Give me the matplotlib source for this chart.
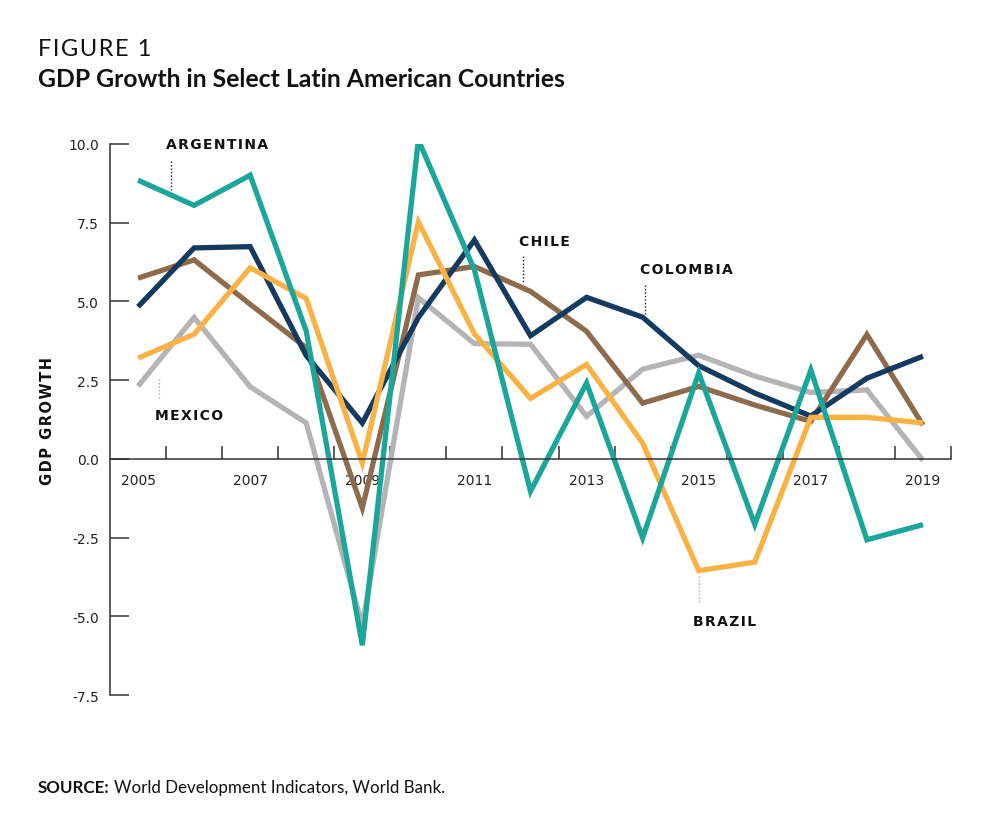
import numpy as np
import matplotlib.pyplot as plt

# GDP growth (annual %), World Development Indicators
years = list(range(2005, 2020))
mexico = [2.31, 4.49, 2.29, 1.14, -5.29, 5.12, 3.66, 3.64, 1.35, 2.85, 3.29, 2.63, 2.11, 2.19, -0.05]
chile = [5.74, 6.32, 4.91, 3.53, -1.56, 5.84, 6.11, 5.32, 4.05, 1.77, 2.30, 1.71, 1.19, 3.95, 1.07]
colombia = [4.83, 6.70, 6.74, 3.28, 1.14, 4.49, 6.95, 3.91, 5.13, 4.50, 2.96, 2.09, 1.36, 2.56, 3.26]
brazil = [3.20, 3.96, 6.07, 5.09, -0.13, 7.53, 3.97, 1.92, 3.00, 0.50, -3.55, -3.28, 1.32, 1.32, 1.14]
argentina = [8.85, 8.05, 9.01, 4.06, -5.92, 10.13, 6.00, -1.03, 2.41, -2.51, 2.73, -2.08, 2.82, -2.57, -2.09]

yticks = [-7.5, -5.0, -2.5, 0.0, 2.5, 5.0, 7.5, 10.0]
xlabels = [2005, 2007, 2009, 2011, 2013, 2015, 2017, 2019]

series = [
    (mexico, '#b4b4b7'),
    (chile, '#8c6c4c'),
    (colombia, '#153a60'),
    (brazil, '#fbb245'),
    (argentina, '#1ba69a'),
]


def spaced(s):
    # a little letter spacing with hair spaces
    return '\u200a'.join(s)


fig = plt.figure(figsize=(10, 8.29), dpi=100)
ax = fig.add_axes([0.110, 0.1604, 0.841, 0.6647])

for vals, col in series:
    ax.plot(years, vals, color=col, lw=3.8, solid_joinstyle='miter', solid_capstyle='butt')

ax.set_xlim(2004.5, 2019.5)
ax.set_ylim(-7.5, 10.0)

for s in ['top', 'right']:
    ax.spines[s].set_visible(False)
ax.spines['bottom'].set_position(('data', 0))
ax.spines['left'].set_color('#333333')
ax.spines['bottom'].set_color('#333333')
ax.spines['left'].set_linewidth(1.1)
ax.spines['bottom'].set_linewidth(1.1)

ax.set_yticks(yticks)
ax.set_yticklabels(['%.1f' % v for v in yticks])
ax.tick_params(axis='y', direction='in', length=14, width=1.1, color='#333333',
               labelsize=10, labelcolor='#222222', pad=8)

# tick marks between years, labels on odd years
ax.set_xticks(np.arange(2005.5, 2020, 1.0))
ax.set_xticklabels([])
ax.tick_params(axis='x', which='major', direction='in', length=9.5, width=1.1, color='#333333')
ax.set_xticks(xlabels, minor=True)
ax.set_xticklabels([str(y) for y in xlabels], minor=True)
ax.tick_params(axis='x', which='minor', length=0, labelsize=10, labelcolor='#222222', pad=10)

# country labels with dotted leaders
labels = [
    ('ARGENTINA', 2005.50, 10.0, 2005.58, 9.46, 8.55, '#222222'),
    ('MEXICO', 2005.30, 1.40, 2005.37, 2.54, 1.90, '#aaaaaa'),
    ('CHILE', 2011.79, 6.92, 2011.87, 6.44, 5.56, '#222222'),
    ('COLOMBIA', 2013.95, 6.03, 2014.04, 5.52, 4.60, '#222222'),
    ('BRAZIL', 2014.90, -5.14, 2015.00, -3.71, -4.60, '#aaaaaa'),
]
for name, tx, ty, lx, ly0, ly1, lc in labels:
    ax.text(tx, ty, spaced(name), fontsize=10, fontweight='bold', color='#111111',
            ha='left', va='center', family=['DejaVu Sans'])
    ax.plot([lx, lx], [ly0, ly1], color=lc, lw=1.0, ls=(0, (1, 1.5)))

fig.text(0.047, 1 - 421 / 829, spaced('GDP GROWTH'), rotation=90, fontsize=10.5,
         fontweight='bold', color='#111111', ha='center', va='center', family=['DejaVu Sans'])

fig.text(0.038, 1 - 56 / 829, spaced('FIGURE 1'), fontsize=17, family=['Lato', 'DejaVu Sans'],
         fontweight='normal', color='#111111', va='baseline')
fig.text(0.038, 1 - 87 / 829, 'GDP Growth in Select Latin American Countries', fontsize=17.8,
         family='Lato', fontweight='bold', color='#111111', va='baseline')

src = fig.text(0.038, 1 - 793 / 829, 'SOURCE:', fontsize=12.15, family='Lato', fontweight='bold',
               color='#111111', va='baseline')
fig.canvas.draw()
bb = src.get_window_extent()
fig.text(bb.x1 / fig.bbox.width + 0.004, 1 - 793 / 829, 'World Development Indicators, World Bank.',
         fontsize=12.15, family='Lato', color='#111111', va='baseline')

fig.savefig('out.png', dpi=100)
